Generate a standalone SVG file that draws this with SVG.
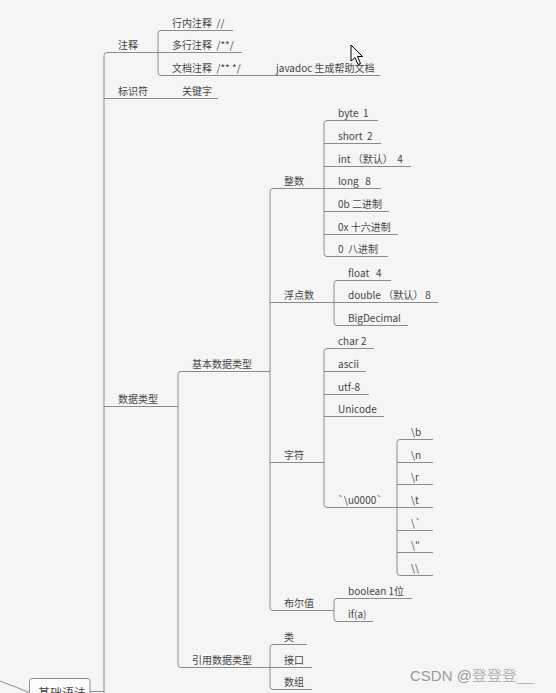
<svg xmlns="http://www.w3.org/2000/svg" width="556" height="693" viewBox="0 0 556 693">
<style>
.t{font-family:"Noto Sans CJK SC","Noto Sans",sans-serif;font-size:10px;fill:#454545;white-space:pre}
.l{stroke:#8c8c8c;stroke-width:1;fill:none}
.wm{font-family:"Liberation Sans","Noto Sans CJK SC",sans-serif;font-size:15px}
</style>
<rect width="556" height="693" fill="#f5f5f5"/>
<g id="connectors" class="l">
<path d="M107 52.5Q104 52.5 104 55.5V693"/>
<path d="M90 691.5H104"/>
<path d="M0 681Q16 687 33 694"/>
<path d="M161 30.5Q158 30.5 158 33.5V72.5Q158 75.5 161 75.5"/>
<path d="M181 371.5Q178 371.5 178 374.5V664.5Q178 667.5 181 667.5"/>
<path d="M273 188.5Q270 188.5 270 191.5V607.5Q270 610.5 273 610.5"/>
<path d="M327 120.5Q324 120.5 324 123.5V253.5Q324 256.5 327 256.5"/>
<path d="M337 280.5Q334 280.5 334 283.5V322.5Q334 325.5 337 325.5"/>
<path d="M327 348.5Q324 348.5 324 351.5V504.5Q324 507.5 327 507.5"/>
<path d="M400 439.5Q397 439.5 397 442.5V572.5Q397 575.5 400 575.5"/>
<path d="M337 598.5Q334 598.5 334 601.5V618.5Q334 621.5 337 621.5"/>
<path d="M273 644.5Q270 644.5 270 647.5V686.5Q270 689.5 273 689.5"/>
</g>
<g id="root"><rect x="29.5" y="678.5" width="60.5" height="22" rx="3" fill="#fcfcfc" stroke="#8c8c8c"/><text x="38" y="698" class="t" style="font-size:12px">基础语法</text></g>
<g id="n-zhushi"><path class="l" d="M107 52.5H158"/><text class="t" x="118" y="48.5">注释</text></g>
<g id="n-hangnei"><path class="l" d="M161 30.5H233"/><text class="t" x="172" y="26.5">行内注释  //</text></g>
<g id="n-duohang"><path class="l" d="M158 52.5H242"/><text class="t" x="172" y="48.5">多行注释  /**/</text></g>
<g id="n-wendang"><path class="l" d="M161 75.5H248"/><text class="t" x="172" y="71.5">文档注释  /** */</text></g>
<g id="n-javadoc"><path class="l" d="M248 75.5H380"/><text class="t" x="276" y="71.5">javadoc 生成帮助文档</text></g>
<g id="n-biaoshifu"><path class="l" d="M104 98.5H168"/><text class="t" x="118" y="94.5">标识符</text></g>
<g id="n-guanjianzi"><path class="l" d="M168 98.5H218"/><text class="t" x="182" y="94.5">关键字</text></g>
<g id="n-shujuleixing"><path class="l" d="M104 406.5H178"/><text class="t" x="118" y="402.5">数据类型</text></g>
<g id="n-jiben"><path class="l" d="M181 371.5H270"/><text class="t" x="192" y="367.5">基本数据类型</text></g>
<g id="n-yinyong"><path class="l" d="M181 667.5H270"/><text class="t" x="192" y="663.5">引用数据类型</text></g>
<g id="n-zhengshu"><path class="l" d="M273 188.5H324"/><text class="t" x="284" y="184.5">整数</text></g>
<g id="n-fudian"><path class="l" d="M270 302.5H334"/><text class="t" x="284" y="298.5">浮点数</text></g>
<g id="n-zifu"><path class="l" d="M270 462.5H324"/><text class="t" x="284" y="458.5">字符</text></g>
<g id="n-buer"><path class="l" d="M273 610.5H334"/><text class="t" x="284" y="606.5">布尔值</text></g>
<g id="n-byte"><path class="l" d="M327 120.5H378"/><text class="t" x="338" y="116.5">byte  1</text></g>
<g id="n-short"><path class="l" d="M324 143.5H381"/><text class="t" x="338" y="139.5">short  2</text></g>
<g id="n-int"><path class="l" d="M324 166.5H411"/><text class="t" x="338" y="162.5">int （默认）  4</text></g>
<g id="n-long"><path class="l" d="M324 188.5H381"/><text class="t" x="338" y="184.5">long   8</text></g>
<g id="n-0b"><path class="l" d="M324 211.5H389"/><text class="t" x="338" y="207.5">0b 二进制</text></g>
<g id="n-0x"><path class="l" d="M324 234.5H398"/><text class="t" x="338" y="230.5">0x 十六进制</text></g>
<g id="n-0"><path class="l" d="M327 256.5H388"/><text class="t" x="338" y="252.5">0  八进制</text></g>
<g id="n-float"><path class="l" d="M337 280.5H391"/><text class="t" x="348" y="276.5">float   4</text></g>
<g id="n-double"><path class="l" d="M334 302.5H438"/><text class="t" x="348" y="298.5">double （默认） 8</text></g>
<g id="n-bigdecimal"><path class="l" d="M337 325.5H408"/><text class="t" x="348" y="321.5">BigDecimal</text></g>
<g id="n-char"><path class="l" d="M327 348.5H374"/><text class="t" x="338" y="344.5">char 2</text></g>
<g id="n-ascii"><path class="l" d="M324 371.5H366"/><text class="t" x="338" y="367.5">ascii</text></g>
<g id="n-utf8"><path class="l" d="M324 394.5H369"/><text class="t" x="338" y="390.5">utf-8</text></g>
<g id="n-unicode"><path class="l" d="M324 416.5H384"/><text class="t" x="338" y="412.5">Unicode</text></g>
<g id="n-u0000"><path class="l" d="M327 507.5H397"/><text class="t" x="338" y="503.5">`\u0000`</text></g>
<g id="n-esc-b"><path class="l" d="M400 439.5H433"/><text class="t" x="411" y="435.5">\b</text></g>
<g id="n-esc-n"><path class="l" d="M397 462.5H433"/><text class="t" x="411" y="458.5">\n</text></g>
<g id="n-esc-r"><path class="l" d="M397 484.5H433"/><text class="t" x="411" y="480.5">\r</text></g>
<g id="n-esc-t"><path class="l" d="M397 507.5H433"/><text class="t" x="411" y="503.5">\t</text></g>
<g id="n-esc-q1"><path class="l" d="M397 530.5H433"/><text class="t" x="411" y="526.5">\`</text></g>
<g id="n-esc-q2"><path class="l" d="M397 552.5H433"/><text class="t" x="411" y="548.5">\"</text></g>
<g id="n-esc-bs"><path class="l" d="M400 575.5H433"/><text class="t" x="411" y="571.5">\\</text></g>
<g id="n-boolean"><path class="l" d="M337 598.5H412"/><text class="t" x="348" y="594.5">boolean 1位</text></g>
<g id="n-if"><path class="l" d="M337 621.5H373"/><text class="t" x="348" y="617.5">if(a)</text></g>
<g id="n-lei"><path class="l" d="M273 644.5H307"/><text class="t" x="284" y="640.5">类</text></g>
<g id="n-jiekou"><path class="l" d="M270 667.5H312"/><text class="t" x="284" y="663.5">接口</text></g>
<g id="n-shuzu"><path class="l" d="M273 689.5H312"/><text class="t" x="284" y="685.5">数组</text></g>
<text class="wm" x="410" y="681"><tspan fill="#9a9a9a">CSDN @</tspan><tspan fill="#b4b4b4">登登登__</tspan></text>
<path d="M351 45V61L355 57.5L358 64.5L360.5 63.5L357.5 56.5H362.5Z" fill="#fff" stroke="#000" stroke-width="1"/>
</svg>
